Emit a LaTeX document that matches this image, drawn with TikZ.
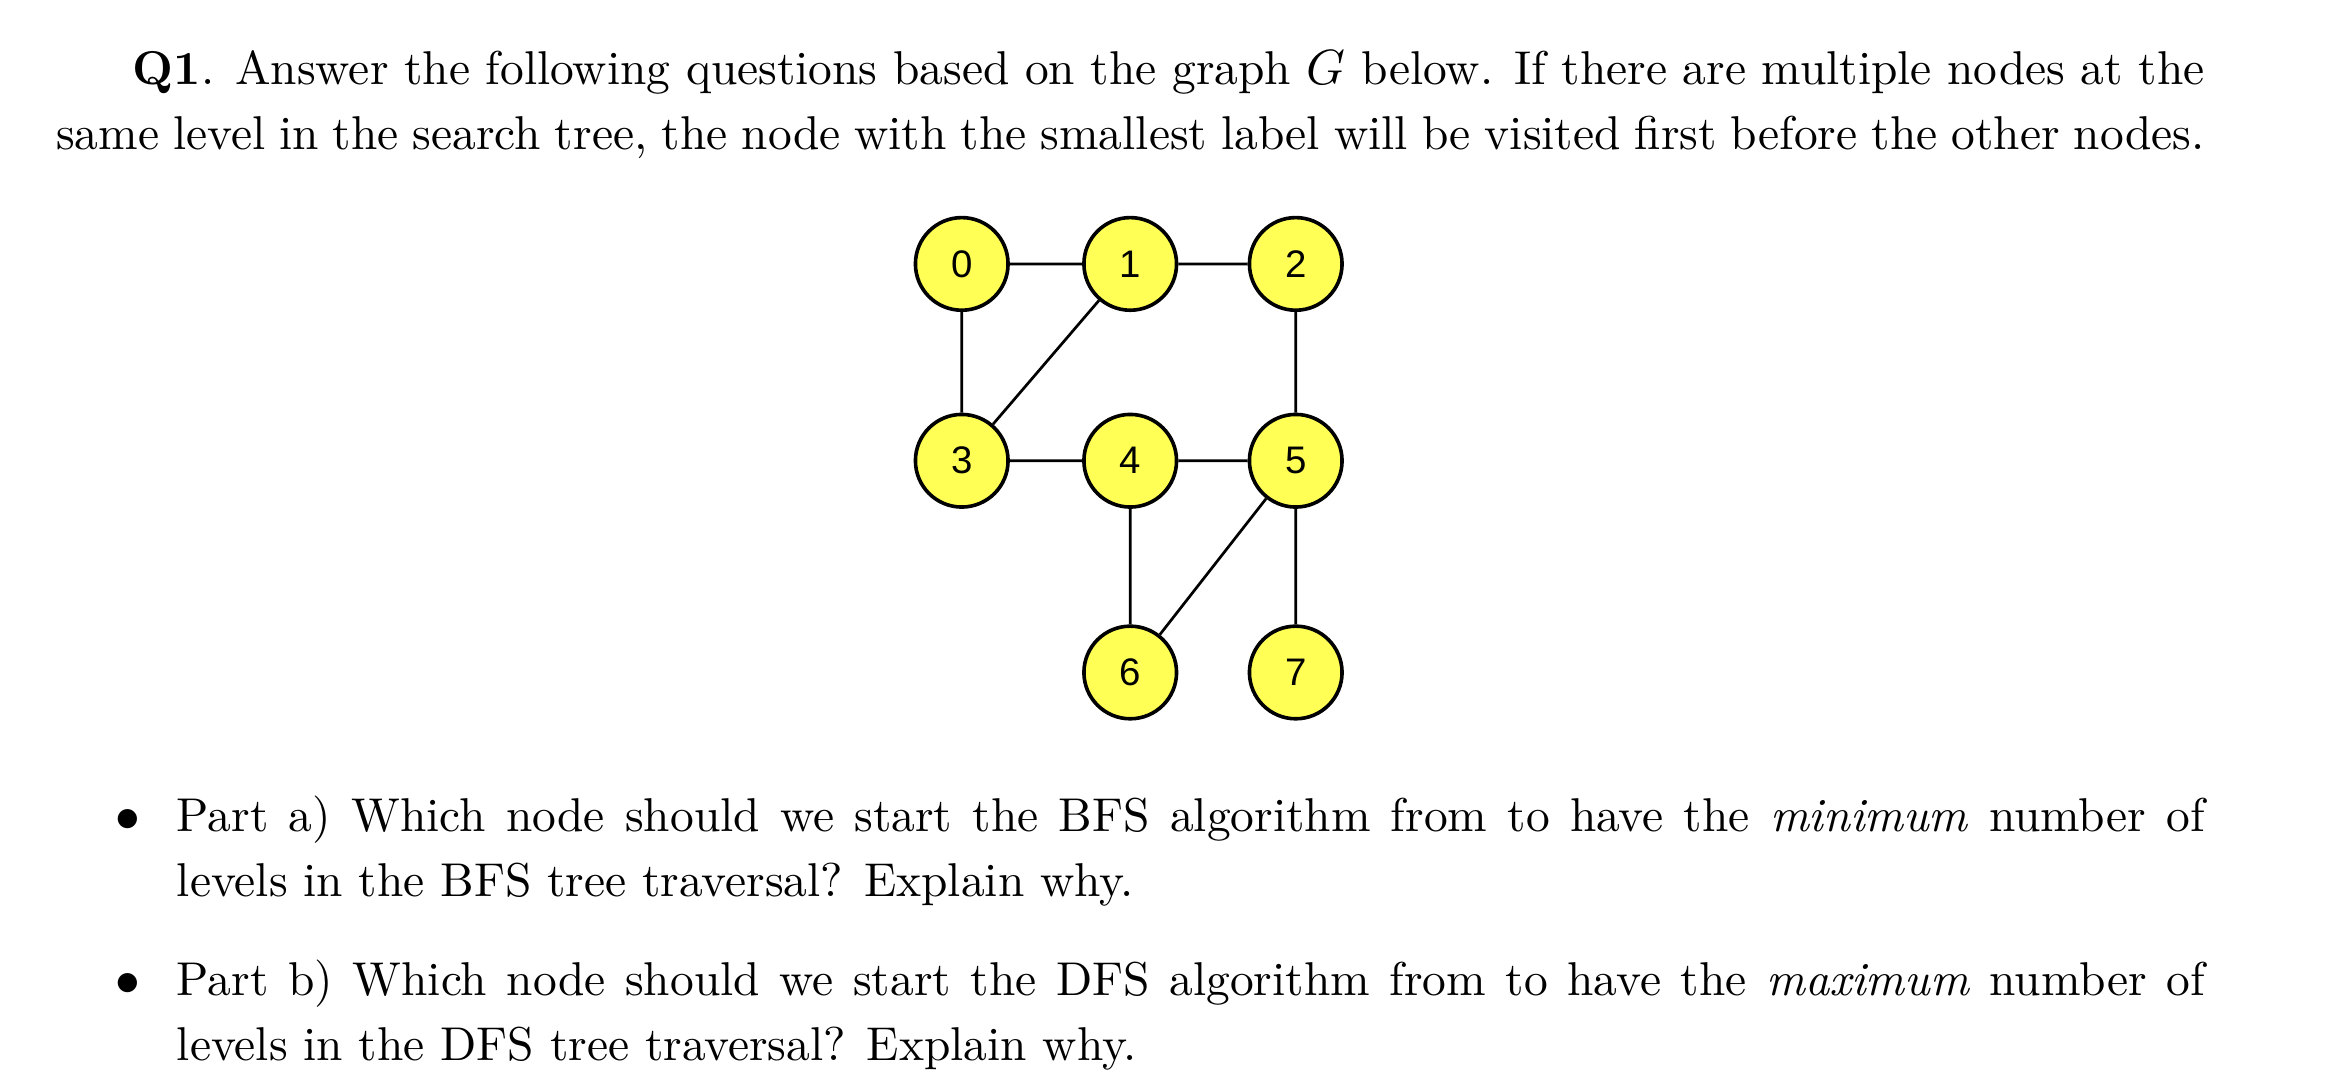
\documentclass[tikz,border=0pt]{standalone}
\usepackage{fontspec}
\newfontfamily\lab{Liberation Sans}
\definecolor{ny}{RGB}{255,255,85}
\tikzset{v/.style={circle,draw,thick,fill=ny,minimum size=20.5pt,inner sep=0pt,font=\lab\fontsize{8.5}{10}\selectfont},
e/.style={draw,semithick},
para/.style={anchor=north west,inner sep=0pt,align=justify}}
\begin{document}
\begin{tikzpicture}[x=0.33pt,y=-0.33pt]
\useasboundingbox (0,0) rectangle (1568,730);
\fontsize{10.5}{14.5}\selectfont
\node[para,text width=475.5pt] (q) at (37,33) {\hspace*{17pt}\textbf{Q1}. Answer the following questions based on the graph $G$ below. If there are multiple nodes at the same level in the search tree, the node with the smallest label will be visited first before the other nodes.};
\node[v] (n0) at (645,177) {0};
\node[v] (n1) at (758,177) {1};
\node[v] (n2) at (869,177) {2};
\node[v] (n3) at (645,309) {3};
\node[v] (n4) at (758,309) {4};
\node[v] (n5) at (869,309) {5};
\node[v] (n6) at (758,451) {6};
\node[v] (n7) at (869,451) {7};
\draw[e] (n0)--(n1) (n1)--(n2) (n0)--(n3) (n1)--(n3) (n3)--(n4) (n4)--(n5) (n2)--(n5) (n4)--(n6) (n5)--(n6) (n5)--(n7);
\node[para,text width=448.8pt] (pa) at (118,533) {\hspace*{0pt}\llap{$\bullet$\hspace{8pt}}Part a) Which node should we start the BFS algorithm from to have the \emph{minimum} number of levels in the BFS tree traversal? Explain why.};
\node[para,text width=448.8pt] (pb) at (118,643) {\hspace*{0pt}\llap{$\bullet$\hspace{8pt}}Part b) Which node should we start the DFS algorithm from to have the \emph{maximum} number of levels in the DFS tree traversal? Explain why.};
\end{tikzpicture}
\end{document}
